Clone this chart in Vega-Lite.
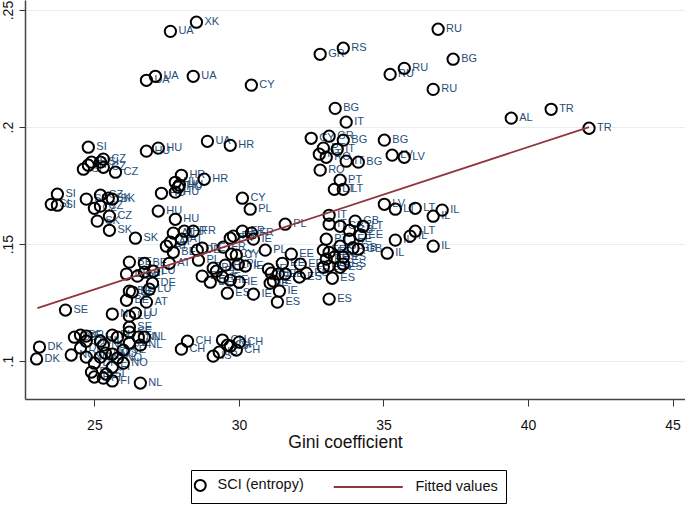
{"$schema":"https://vega.github.io/schema/vega-lite/v6.json","width":660,"height":399,"autosize":"none","padding":{"left":25,"top":0,"right":0,"bottom":106},"background":"white","config":{"view":{"stroke":null},"font":"Liberation Sans"},
"datasets":{"fit":[{"g":23.03,"s":0.1226},{"g":42.11,"s":0.2}],"pts":[
{"g":28.53,"s":0.2448,"c":"XK"},{"g":27.63,"s":0.2409,"c":"UA"},{"g":32.81,"s":0.2311,"c":"GR"},{"g":33.61,"s":0.2337,"c":"RS"},{"g":36.89,"s":0.2418,"c":"RU"},{"g":37.41,"s":0.229,"c":"BG"},{"g":35.72,"s":0.2251,"c":"RU"},{"g":35.23,"s":0.2225,"c":"RU"},{"g":36.72,"s":0.2161,"c":"RU"},{"g":27.11,"s":0.2217,"c":"UA"},{"g":26.8,"s":0.22,"c":"UA"},{"g":28.42,"s":0.2217,"c":"UA"},{"g":30.43,"s":0.2179,"c":"CY"},{"g":33.33,"s":0.208,"c":"BG"},{"g":33.71,"s":0.2021,"c":"IT"},{"g":40.8,"s":0.2076,"c":"TR"},{"g":39.42,"s":0.2038,"c":"AL"},{"g":42.11,"s":0.1995,"c":"TR"},{"g":32.5,"s":0.1952,"c":"CY"},{"g":33.12,"s":0.1961,"c":"GR"},{"g":33.61,"s":0.1944,"c":"BG"},{"g":35.03,"s":0.1944,"c":"BG"},{"g":32.92,"s":0.191,"c":"PT"},{"g":33.4,"s":0.1905,"c":"IT"},{"g":32.78,"s":0.1884,"c":"PT"},{"g":33.02,"s":0.1871,"c":"RO"},{"g":33.71,"s":0.1854,"c":"IT"},{"g":34.13,"s":0.185,"c":"BG"},{"g":35.3,"s":0.188,"c":"LV"},{"g":35.72,"s":0.1871,"c":"LV"},{"g":32.81,"s":0.1816,"c":"RO"},{"g":33.5,"s":0.1773,"c":"PT"},{"g":33.3,"s":0.1734,"c":"LT"},{"g":33.61,"s":0.1734,"c":"LT"},{"g":33.12,"s":0.1623,"c":"IT"},{"g":33.12,"s":0.1585,"c":"IT"},{"g":31.6,"s":0.1585,"c":"PL"},{"g":35.03,"s":0.167,"c":"LV"},{"g":35.41,"s":0.1649,"c":"LT"},{"g":36.1,"s":0.1653,"c":"LT"},{"g":36.72,"s":0.1619,"c":"IL"},{"g":37.03,"s":0.1645,"c":"IL"},{"g":36.1,"s":0.1555,"c":"LT"},{"g":35.92,"s":0.1534,"c":"IL"},{"g":35.41,"s":0.1517,"c":"IL"},{"g":36.72,"s":0.1491,"c":"IL"},{"g":35.13,"s":0.1461,"c":"IL"},{"g":34.02,"s":0.1598,"c":"GB"},{"g":33.5,"s":0.1576,"c":"GB"},{"g":34.3,"s":0.1576,"c":"LT"},{"g":33.82,"s":0.1559,"c":"GB"},{"g":34.2,"s":0.1538,"c":"EE"},{"g":33.02,"s":0.1521,"c":"PT"},{"g":33.82,"s":0.1521,"c":"EE"},{"g":33.5,"s":0.1491,"c":"GB"},{"g":32.92,"s":0.1474,"c":"EE"},{"g":33.12,"s":0.1465,"c":"EE"},{"g":34.13,"s":0.1478,"c":"GB"},{"g":33.95,"s":0.1483,"c":"GB"},{"g":33.3,"s":0.1444,"c":"ES"},{"g":33.61,"s":0.1444,"c":"ES"},{"g":33.02,"s":0.1436,"c":"ES"},{"g":33.61,"s":0.1414,"c":"ES"},{"g":32.92,"s":0.1401,"c":"ES"},{"g":33.12,"s":0.1406,"c":"ES"},{"g":33.5,"s":0.1401,"c":"ES"},{"g":33.23,"s":0.1354,"c":"ES"},{"g":33.12,"s":0.1265,"c":"ES"},{"g":31.81,"s":0.1457,"c":"EE"},{"g":32.12,"s":0.1414,"c":"EE"},{"g":31.5,"s":0.1418,"c":"EE"},{"g":32.33,"s":0.1376,"c":"ES"},{"g":32.09,"s":0.1359,"c":"ES"},{"g":31.02,"s":0.1393,"c":"IE"},{"g":31.12,"s":0.1376,"c":"IE"},{"g":31.36,"s":0.1372,"c":"IE"},{"g":31.6,"s":0.1372,"c":"IE"},{"g":31.19,"s":0.1342,"c":"IE"},{"g":31.08,"s":0.1333,"c":"IE"},{"g":31.4,"s":0.1299,"c":"IE"},{"g":31.33,"s":0.1252,"c":"ES"},{"g":30.5,"s":0.1286,"c":"IE"},{"g":29.6,"s":0.129,"c":"ES"},{"g":30.91,"s":0.1474,"c":"PL"},{"g":30.39,"s":0.1649,"c":"PL"},{"g":30.12,"s":0.1696,"c":"CY"},{"g":30.12,"s":0.1555,"c":"FR"},{"g":30.43,"s":0.1547,"c":"FR"},{"g":30.5,"s":0.1521,"c":"IE"},{"g":29.81,"s":0.1534,"c":"FR"},{"g":29.7,"s":0.1525,"c":"FR"},{"g":29.46,"s":0.1487,"c":"FR"},{"g":28.73,"s":0.1483,"c":"DE"},{"g":28.56,"s":0.1474,"c":"DE"},{"g":29.74,"s":0.1457,"c":"CY"},{"g":29.91,"s":0.1453,"c":"CY"},{"g":29.98,"s":0.1414,"c":"PL"},{"g":30.22,"s":0.1406,"c":"IE"},{"g":29.53,"s":0.141,"c":"PL"},{"g":29.11,"s":0.1397,"c":"PL"},{"g":29.22,"s":0.1384,"c":"PL"},{"g":28.73,"s":0.1363,"c":"DE"},{"g":29.01,"s":0.1337,"c":"DE"},{"g":29.43,"s":0.1359,"c":"IE"},{"g":29.7,"s":0.1346,"c":"IE"},{"g":30.01,"s":0.1337,"c":"IE"},{"g":28.6,"s":0.1431,"c":"PL"},{"g":28.42,"s":0.1555,"c":"FR"},{"g":24.79,"s":0.1914,"c":"SI"},{"g":24.62,"s":0.182,"c":"SI"},{"g":24.79,"s":0.1837,"c":"SI"},{"g":24.9,"s":0.185,"c":"SI"},{"g":25.31,"s":0.1863,"c":"CZ"},{"g":25.21,"s":0.185,"c":"SI"},{"g":25.31,"s":0.1828,"c":"CZ"},{"g":25.73,"s":0.1807,"c":"CZ"},{"g":27.21,"s":0.191,"c":"HU"},{"g":26.8,"s":0.1897,"c":"HU"},{"g":28.91,"s":0.1939,"c":"UA"},{"g":29.7,"s":0.1922,"c":"HR"},{"g":28.01,"s":0.1794,"c":"HR"},{"g":28.8,"s":0.1777,"c":"HR"},{"g":27.8,"s":0.1764,"c":"HU"},{"g":27.9,"s":0.1743,"c":"HU"},{"g":27.94,"s":0.1752,"c":"HU"},{"g":27.8,"s":0.1722,"c":"HU"},{"g":27.32,"s":0.1717,"c":"HU"},{"g":23.72,"s":0.1713,"c":"SI"},{"g":23.51,"s":0.167,"c":"SI"},{"g":23.72,"s":0.1666,"c":"SI"},{"g":24.72,"s":0.1692,"c":"SK"},{"g":25.21,"s":0.1709,"c":"CZ"},{"g":25.48,"s":0.1696,"c":"SK"},{"g":25.62,"s":0.1692,"c":"SK"},{"g":25,"s":0.1653,"c":"CZ"},{"g":25.21,"s":0.1662,"c":"CZ"},{"g":25.52,"s":0.1619,"c":"CZ"},{"g":25.1,"s":0.1598,"c":"SK"},{"g":25.52,"s":0.1559,"c":"SK"},{"g":26.42,"s":0.1525,"c":"SK"},{"g":27.21,"s":0.1641,"c":"HU"},{"g":27.8,"s":0.1606,"c":"HU"},{"g":27.73,"s":0.1547,"c":"AT"},{"g":28.11,"s":0.1555,"c":"FR"},{"g":28.01,"s":0.1521,"c":"AT"},{"g":27.63,"s":0.1508,"c":"AT"},{"g":27.49,"s":0.1491,"c":"AT"},{"g":27.73,"s":0.1465,"c":"BE"},{"g":26.21,"s":0.1423,"c":"BE"},{"g":26.73,"s":0.1418,"c":"BE"},{"g":27.59,"s":0.1418,"c":"AT"},{"g":26.11,"s":0.1372,"c":"DE"},{"g":26.49,"s":0.1363,"c":"DE"},{"g":26.73,"s":0.138,"c":"AT"},{"g":27.04,"s":0.1384,"c":"LU"},{"g":27.01,"s":0.1333,"c":"DE"},{"g":26.9,"s":0.1307,"c":"LU"},{"g":26.21,"s":0.1299,"c":"BE"},{"g":26.31,"s":0.1295,"c":"BE"},{"g":26.11,"s":0.126,"c":"BE"},{"g":26.8,"s":0.1252,"c":"AT"},{"g":24,"s":0.1218,"c":"SE"},{"g":25.62,"s":0.1201,"c":"NL"},{"g":26.21,"s":0.1192,"c":"LU"},{"g":26.42,"s":0.1205,"c":"LU"},{"g":26.21,"s":0.1145,"c":"SE"},{"g":26.21,"s":0.1124,"c":"SE"},{"g":24.31,"s":0.1102,"c":"BE"},{"g":24.52,"s":0.1111,"c":"BE"},{"g":24.72,"s":0.1107,"c":"FI"},{"g":24.72,"s":0.1085,"c":"DK"},{"g":25.21,"s":0.1085,"c":"NL"},{"g":25.62,"s":0.1111,"c":"FI"},{"g":25.8,"s":0.1102,"c":"FI"},{"g":26.52,"s":0.1102,"c":"NL"},{"g":26.73,"s":0.1102,"c":"NL"},{"g":26.21,"s":0.1077,"c":"NL"},{"g":26.59,"s":0.1068,"c":"NL"},{"g":24.52,"s":0.1056,"c":"DK"},{"g":25.31,"s":0.1068,"c":"NL"},{"g":25.38,"s":0.1034,"c":"NO"},{"g":25.62,"s":0.103,"c":"NO"},{"g":26,"s":0.1047,"c":"SE"},{"g":24.2,"s":0.1026,"c":"NO"},{"g":24.72,"s":0.1017,"c":"NO"},{"g":25.21,"s":0.1017,"c":"NO"},{"g":25.8,"s":0.1013,"c":"NO"},{"g":25,"s":0.0991,"c":"DK"},{"g":26,"s":0.0991,"c":"NO"},{"g":25.62,"s":0.0974,"c":"FI"},{"g":24.9,"s":0.0953,"c":"FI"},{"g":25.41,"s":0.0944,"c":"SI"},{"g":25,"s":0.0932,"c":"FI"},{"g":25.31,"s":0.0927,"c":"FI"},{"g":25.62,"s":0.0915,"c":"FI"},{"g":26.59,"s":0.0906,"c":"NL"},{"g":23.1,"s":0.106,"c":"DK"},{"g":23,"s":0.1009,"c":"DK"},{"g":28.22,"s":0.1085,"c":"CH"},{"g":28.01,"s":0.1051,"c":"CH"},{"g":29.43,"s":0.109,"c":"CH"},{"g":29.6,"s":0.1068,"c":"CH"},{"g":29.7,"s":0.1064,"c":"IS"},{"g":30.01,"s":0.1081,"c":"CH"},{"g":29.91,"s":0.1047,"c":"CH"},{"g":29.32,"s":0.1038,"c":"IS"},{"g":29.11,"s":0.1021,"c":"IS"}]},
"encoding":{
"x":{"field":"g","type":"quantitative","scale":{"domain":[22.6,45.43],"nice":false,"zero":false},"axis":{"values":[25,30,35,40,45],"title":"Gini coefficient","titleFont":"Liberation Sans","titleFontSize":17.5,"titleFontWeight":"normal","titleColor":"#111","titlePadding":1,"titleX":320,"labelFontSize":14,"labelColor":"#111","labelPadding":12,"tickSize":7,"tickColor":"#333","tickWidth":1,"domainColor":"#444","domainWidth":1.5,"grid":false}},
"y":{"field":"s","type":"quantitative","scale":{"domain":[0.0838,0.2543],"nice":false,"zero":false},"axis":{"values":[0.1,0.15,0.2,0.25],"title":null,"labelExpr":"replace(format(datum.value,'.2~f'),'0.','.')","labelAngle":-90,"labelAlign":"center","labelBaseline":"bottom","labelFontSize":14,"labelColor":"#111","labelPadding":4,"tickSize":6,"tickColor":"#333","tickWidth":1,"domainColor":"#444","domainWidth":1.5,"grid":true,"gridColor":"#e8eeee","gridWidth":1.2}}},
"layer":[
{"data":{"name":"pts"},"mark":{"type":"text","align":"left","baseline":"middle","dx":8,"fontSize":11,"color":"#1f4e7a"},"encoding":{"text":{"field":"c","type":"nominal"}}},
{"data":{"name":"pts"},"mark":{"type":"point","filled":false,"size":105,"strokeWidth":2,"opacity":1},"encoding":{"color":{"datum":"SCI (entropy)","type":"nominal","scale":{"domain":["SCI (entropy)","Fitted values"],"range":["#000000","#90353b"]},"legend":{"title":null,"orient":"none","legendX":166,"legendY":470,"direction":"horizontal","columns":2,"gridAlign":"all","strokeColor":"#000","padding":8,"labelFontSize":14.5,"labelColor":"#111","symbolStrokeWidth":2,"symbolSize":100,"symbolOffset":-6,"labelOffset":10,"columnPadding":25,"fillColor":"white"}},"shape":{"datum":"SCI (entropy)","type":"nominal","scale":{"domain":["SCI (entropy)","Fitted values"],"range":["M1.1,0A1.1,1.1,0,1,1,-1.1,0A1.1,1.1,0,1,1,1.1,0ZM1.1,0A1.1,1.1,0,1,0,-1.1,0A1.1,1.1,0,1,0,1.1,0Z","M-12.9,0L0.9,0"]},"legend":null}}},
{"data":{"name":"fit"},"mark":{"type":"line","strokeWidth":1.8},"encoding":{"color":{"datum":"Fitted values","type":"nominal"},"shape":{"datum":"Fitted values","type":"nominal"}}}
]}
